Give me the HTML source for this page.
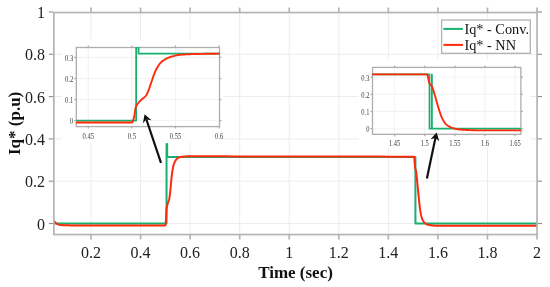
<!DOCTYPE html>
<html><head><meta charset="utf-8"><title>Iq* plot</title>
<style>html,body{margin:0;padding:0;background:#fff;width:550px;height:287px;overflow:hidden}svg{display:block}</style>
</head><body>
<svg width="550" height="287" viewBox="0 0 550 287"><rect x="0" y="0" width="550" height="287" fill="#fff"/>
<line x1="91" y1="12.55" x2="91" y2="234.55" stroke="#ececec" stroke-width="1"/>
<line x1="140.56" y1="12.55" x2="140.56" y2="234.55" stroke="#ececec" stroke-width="1"/>
<line x1="190.12" y1="12.55" x2="190.12" y2="234.55" stroke="#ececec" stroke-width="1"/>
<line x1="239.68" y1="12.55" x2="239.68" y2="234.55" stroke="#ececec" stroke-width="1"/>
<line x1="289.24" y1="12.55" x2="289.24" y2="234.55" stroke="#ececec" stroke-width="1"/>
<line x1="338.8" y1="12.55" x2="338.8" y2="234.55" stroke="#ececec" stroke-width="1"/>
<line x1="388.36" y1="12.55" x2="388.36" y2="234.55" stroke="#ececec" stroke-width="1"/>
<line x1="437.92" y1="12.55" x2="437.92" y2="234.55" stroke="#ececec" stroke-width="1"/>
<line x1="487.48" y1="12.55" x2="487.48" y2="234.55" stroke="#ececec" stroke-width="1"/>
<line x1="53.85" y1="223.5" x2="537.05" y2="223.5" stroke="#ececec" stroke-width="1"/>
<line x1="53.85" y1="181.2" x2="537.05" y2="181.2" stroke="#ececec" stroke-width="1"/>
<line x1="53.85" y1="138.9" x2="537.05" y2="138.9" stroke="#ececec" stroke-width="1"/>
<line x1="53.85" y1="96.6" x2="537.05" y2="96.6" stroke="#ececec" stroke-width="1"/>
<line x1="53.85" y1="54.3" x2="537.05" y2="54.3" stroke="#ececec" stroke-width="1"/>
<path d="M53.85 223.5 L166.55 223.5 L166.55 143.98 L167.15 143.98 L167.15 156.98 L415.42 156.98 L415.42 223.5 L537.05 223.5" fill="none" stroke="#17b06e" stroke-width="2" stroke-linejoin="round" />
<path d="M53.83 220.96 L55.68 223.02 L57.53 224.12 L59.37 224.72 L61.22 225.03 L63.07 225.2 L64.92 225.3 L66.77 225.35 L68.61 225.37 L70.46 225.39 L72.31 225.39 L74.16 225.4 L76.01 225.4 L77.85 225.4 L79.7 225.4 L81.55 225.4 L83.4 225.4 L85.25 225.4 L87.09 225.4 L88.94 225.4 L90.79 225.4 L92.64 225.4 L94.49 225.4 L96.33 225.4 L98.18 225.4 L100.03 225.4 L101.88 225.4 L103.73 225.4 L105.57 225.4 L107.42 225.4 L109.27 225.4 L111.12 225.4 L112.97 225.4 L114.81 225.4 L116.66 225.4 L118.51 225.4 L120.36 225.4 L122.21 225.4 L124.05 225.4 L125.9 225.4 L127.75 225.4 L129.6 225.4 L131.45 225.4 L133.29 225.4 L135.14 225.4 L136.99 225.4 L138.84 225.4 L140.69 225.4 L142.53 225.4 L144.38 225.4 L146.23 225.4 L148.08 225.4 L149.93 225.4 L151.77 225.4 L153.62 225.4 L155.47 225.4 L157.32 225.4 L159.17 225.4 L161.01 225.4 L162.86 225.4 L162.86 225.4 L163.12 225.4 L163.38 225.4 L163.65 225.4 L163.91 225.4 L164.17 225.4 L164.43 225.4 L164.69 225.4 L164.95 225.4 L165.22 225.4 L165.48 225.05 L165.74 222.87 L166 218.97 L166.26 213.09 L166.52 209.27 L166.78 207.57 L167.05 206.35 L167.31 205.19 L167.57 204.15 L167.83 203.2 L168.09 202.3 L168.35 201.52 L168.61 200.82 L168.88 200.09 L169.14 199.2 L169.4 198.01 L169.66 196.35 L169.92 194.33 L170.18 192.09 L170.45 189.32 L170.71 186.51 L170.97 183.84 L171.23 181.16 L171.49 178.5 L171.75 176 L172.01 173.82 L172.28 172 L172.54 170.3 L172.8 168.73 L173.06 167.31 L173.32 166.07 L173.58 165.05 L173.84 164.24 L174.11 163.52 L174.37 162.85 L174.63 162.24 L174.89 161.69 L175.15 161.2 L175.41 160.75 L175.68 160.35 L175.94 160 L176.2 159.69 L176.46 159.39 L176.72 159.11 L176.98 158.83 L177.24 158.58 L177.51 158.34 L177.77 158.11 L178.03 157.91 L178.29 157.74 L178.55 157.58 L178.81 157.45 L179.07 157.35 L179.34 157.28 L179.6 157.21 L179.86 157.15 L180.12 157.09 L180.38 157.04 L180.64 156.98 L180.91 156.94 L181.17 156.89 L181.43 156.85 L181.69 156.81 L181.95 156.77 L182.21 156.73 L182.47 156.7 L182.74 156.67 L183 156.64 L183.26 156.61 L183.52 156.58 L183.78 156.56 L184.04 156.54 L184.3 156.52 L184.57 156.5 L184.83 156.48 L185.09 156.46 L185.35 156.44 L185.61 156.43 L185.87 156.41 L186.14 156.39 L186.4 156.38 L186.66 156.36 L186.92 156.35 L187.18 156.33 L187.44 156.32 L187.7 156.31 L187.97 156.29 L188.23 156.28 L188.49 156.27 L188.75 156.26 L189.01 156.26 L189.27 156.25 L189.53 156.25 L189.8 156.24 L190.06 156.24 L190.32 156.24 L190.58 156.24 L190.84 156.24 L191.1 156.24 L191.37 156.24 L191.63 156.24 L191.89 156.24 L192.15 156.24 L192.41 156.24 L192.67 156.24 L192.93 156.24 L193.2 156.24 L193.46 156.24 L193.72 156.24 L193.98 156.24 L194.24 156.24 L194.5 156.24 L194.76 156.24 L195.03 156.24 L195.29 156.24 L195.55 156.24 L195.81 156.24 L196.07 156.24 L196.33 156.24 L196.6 156.24 L196.86 156.24 L197.12 156.24 L197.38 156.24 L197.64 156.24 L197.9 156.24 L198.16 156.24 L198.43 156.24 L198.69 156.24 L198.95 156.24 L199.21 156.24 L199.47 156.24 L199.73 156.24 L199.99 156.24 L200.26 156.24 L200.52 156.24 L200.78 156.24 L201.04 156.24 L201.3 156.24 L201.56 156.24 L201.83 156.24 L202.09 156.24 L202.35 156.24 L202.61 156.24 L202.87 156.24 L203.13 156.24 L203.39 156.24 L203.66 156.24 L203.92 156.24 L204.18 156.24 L204.44 156.24 L204.7 156.24 L204.96 156.24 L205.22 156.24 L205.49 156.24 L205.75 156.24 L206.01 156.24 L206.27 156.24 L206.53 156.24 L206.79 156.24 L207.06 156.24 L207.32 156.24 L207.58 156.24 L207.84 156.24 L208.1 156.24 L208.36 156.24 L208.62 156.24 L208.89 156.24 L209.15 156.24 L209.41 156.24 L209.67 156.24 L209.93 156.24 L210.19 156.24 L210.45 156.24 L210.72 156.24 L210.98 156.24 L211.24 156.24 L211.5 156.24 L211.76 156.24 L212.02 156.24 L212.29 156.24 L212.55 156.24 L212.81 156.24 L213.07 156.24 L213.33 156.24 L213.59 156.24 L213.85 156.24 L214.12 156.24 L214.38 156.24 L214.64 156.24 L214.9 156.24 L214.9 156.24 L225.2 156.37 L235.51 156.38 L245.81 156.4 L256.11 156.41 L266.42 156.43 L276.72 156.45 L287.02 156.46 L297.33 156.48 L307.63 156.5 L317.93 156.51 L328.24 156.53 L338.54 156.55 L348.84 156.56 L359.15 156.58 L369.45 156.6 L379.75 156.61 L390.06 156.63 L400.36 156.65 L410.66 156.66 L410.66 156.66 L410.95 156.66 L411.23 156.66 L411.52 156.66 L411.81 156.66 L412.09 156.66 L412.38 156.66 L412.67 156.67 L412.95 156.67 L413.24 156.67 L413.53 156.67 L413.81 156.67 L414.1 156.67 L414.39 158.69 L414.67 163.03 L414.96 166.7 L415.24 168.59 L415.53 169.64 L415.82 170.15 L416.1 171.37 L416.39 173.64 L416.68 176.14 L416.96 179.03 L417.25 181.95 L417.54 184.88 L417.82 187.83 L418.11 190.83 L418.39 193.88 L418.68 196.87 L418.97 199.72 L419.25 202.35 L419.54 204.89 L419.83 207.31 L420.11 209.5 L420.4 211.34 L420.69 212.96 L420.97 214.46 L421.26 215.82 L421.55 216.99 L421.83 217.95 L422.12 218.7 L422.4 219.38 L422.69 220 L422.98 220.56 L423.26 221.06 L423.55 221.5 L423.84 221.9 L424.12 222.24 L424.41 222.54 L424.7 222.82 L424.98 223.09 L425.27 223.34 L425.55 223.58 L425.84 223.8 L426.13 224 L426.41 224.18 L426.7 224.33 L426.99 224.46 L427.27 224.56 L427.56 224.63 L427.85 224.69 L428.13 224.75 L428.42 224.81 L428.71 224.87 L428.99 224.93 L429.28 224.98 L429.56 225.04 L429.85 225.09 L430.14 225.14 L430.42 225.18 L430.71 225.23 L431 225.27 L431.28 225.31 L431.57 225.35 L431.86 225.39 L432.14 225.43 L432.43 225.46 L432.71 225.49 L433 225.52 L433.29 225.55 L433.57 225.58 L433.86 225.6 L434.15 225.62 L434.43 225.64 L434.72 225.66 L435.01 225.67 L435.29 225.69 L435.58 225.7 L435.87 225.71 L436.15 225.71 L436.44 225.72 L436.72 225.72 L437.01 225.72 L437.3 225.72 L437.58 225.72 L437.87 225.72 L438.16 225.72 L438.44 225.72 L438.73 225.72 L439.02 225.72 L439.3 225.72 L439.59 225.72 L439.88 225.72 L440.16 225.72 L440.45 225.72 L440.73 225.72 L441.02 225.72 L441.31 225.72 L441.59 225.72 L441.88 225.72 L442.17 225.72 L442.45 225.72 L442.74 225.72 L443.03 225.72 L443.31 225.72 L443.6 225.72 L443.88 225.72 L444.17 225.72 L444.46 225.72 L444.74 225.72 L445.03 225.72 L445.32 225.72 L445.6 225.72 L445.89 225.72 L446.18 225.72 L446.46 225.72 L446.75 225.72 L447.04 225.72 L447.32 225.72 L447.61 225.72 L447.89 225.72 L448.18 225.72 L448.47 225.72 L448.75 225.72 L449.04 225.72 L449.33 225.72 L449.61 225.72 L449.9 225.72 L450.19 225.72 L450.47 225.72 L450.76 225.72 L451.04 225.72 L451.33 225.72 L451.62 225.72 L451.9 225.72 L452.19 225.72 L452.48 225.72 L452.76 225.72 L453.05 225.72 L453.34 225.72 L453.62 225.72 L453.91 225.72 L454.2 225.72 L454.48 225.72 L454.77 225.72 L455.05 225.72 L455.34 225.72 L455.63 225.72 L455.91 225.72 L456.2 225.72 L456.49 225.72 L456.77 225.72 L457.06 225.72 L457.35 225.72 L457.63 225.72 L457.92 225.72 L458.2 225.72 L458.49 225.72 L458.78 225.72 L459.06 225.72 L459.35 225.72 L459.64 225.72 L459.92 225.72 L460.21 225.72 L460.5 225.72 L460.78 225.72 L461.07 225.72 L461.36 225.72 L461.64 225.72 L461.93 225.72 L462.21 225.72 L462.5 225.72 L462.79 225.72 L463.07 225.72 L463.36 225.72 L463.65 225.72 L463.93 225.72 L464.22 225.72 L464.51 225.72 L464.79 225.72 L465.08 225.72 L465.36 225.72 L465.65 225.72 L465.94 225.72 L466.22 225.72 L466.51 225.72 L466.8 225.72 L467.08 225.72 L467.37 225.72 L467.66 225.72 L467.66 225.72 L475.37 225.72 L483.07 225.72 L490.78 225.72 L498.49 225.72 L506.2 225.72 L513.91 225.72 L521.62 225.72 L529.33 225.72 L537.04 225.72" fill="none" stroke="#ff2a0c" stroke-width="2" stroke-linejoin="round" />
<g stroke="#b4b4b4" stroke-width="1.7" fill="none">
<rect x="53.85" y="12.55" width="483.2" height="222"/>
<line x1="91" y1="234.55" x2="91" y2="239.55"/>
<line x1="91" y1="12.55" x2="91" y2="7.550000000000001"/>
<line x1="140.56" y1="234.55" x2="140.56" y2="239.55"/>
<line x1="140.56" y1="12.55" x2="140.56" y2="7.550000000000001"/>
<line x1="190.12" y1="234.55" x2="190.12" y2="239.55"/>
<line x1="190.12" y1="12.55" x2="190.12" y2="7.550000000000001"/>
<line x1="239.68" y1="234.55" x2="239.68" y2="239.55"/>
<line x1="239.68" y1="12.55" x2="239.68" y2="7.550000000000001"/>
<line x1="289.24" y1="234.55" x2="289.24" y2="239.55"/>
<line x1="289.24" y1="12.55" x2="289.24" y2="7.550000000000001"/>
<line x1="338.8" y1="234.55" x2="338.8" y2="239.55"/>
<line x1="338.8" y1="12.55" x2="338.8" y2="7.550000000000001"/>
<line x1="388.36" y1="234.55" x2="388.36" y2="239.55"/>
<line x1="388.36" y1="12.55" x2="388.36" y2="7.550000000000001"/>
<line x1="437.92" y1="234.55" x2="437.92" y2="239.55"/>
<line x1="437.92" y1="12.55" x2="437.92" y2="7.550000000000001"/>
<line x1="487.48" y1="234.55" x2="487.48" y2="239.55"/>
<line x1="487.48" y1="12.55" x2="487.48" y2="7.550000000000001"/>
<line x1="537.04" y1="234.55" x2="537.04" y2="239.55"/>
<line x1="537.04" y1="12.55" x2="537.04" y2="7.550000000000001"/>
</g>
<g stroke="#8e8e8e" stroke-width="1.1" fill="none">
<line x1="48.85" y1="223.5" x2="53.050000000000004" y2="223.5"/>
<line x1="537.8499999999999" y1="223.5" x2="542.05" y2="223.5"/>
<line x1="48.85" y1="181.2" x2="53.050000000000004" y2="181.2"/>
<line x1="537.8499999999999" y1="181.2" x2="542.05" y2="181.2"/>
<line x1="48.85" y1="138.9" x2="53.050000000000004" y2="138.9"/>
<line x1="537.8499999999999" y1="138.9" x2="542.05" y2="138.9"/>
<line x1="48.85" y1="96.6" x2="53.050000000000004" y2="96.6"/>
<line x1="537.8499999999999" y1="96.6" x2="542.05" y2="96.6"/>
<line x1="48.85" y1="54.3" x2="53.050000000000004" y2="54.3"/>
<line x1="537.8499999999999" y1="54.3" x2="542.05" y2="54.3"/>
<line x1="48.85" y1="12" x2="53.050000000000004" y2="12"/>
<line x1="537.8499999999999" y1="12" x2="542.05" y2="12"/>
</g>
<g font-family="Liberation Serif, serif" font-size="16" fill="#222">
<text x="91" y="258" text-anchor="middle">0.2</text>
<text x="140.56" y="258" text-anchor="middle">0.4</text>
<text x="190.12" y="258" text-anchor="middle">0.6</text>
<text x="239.68" y="258" text-anchor="middle">0.8</text>
<text x="289.24" y="258" text-anchor="middle">1</text>
<text x="338.8" y="258" text-anchor="middle">1.2</text>
<text x="388.36" y="258" text-anchor="middle">1.4</text>
<text x="437.92" y="258" text-anchor="middle">1.6</text>
<text x="487.48" y="258" text-anchor="middle">1.8</text>
<text x="537.04" y="258" text-anchor="middle">2</text>
<text x="45" y="229.5" text-anchor="end">0</text>
<text x="45" y="187.2" text-anchor="end">0.2</text>
<text x="45" y="144.9" text-anchor="end">0.4</text>
<text x="45" y="102.6" text-anchor="end">0.6</text>
<text x="45" y="60.3" text-anchor="end">0.8</text>
<text x="45" y="18" text-anchor="end">1</text>
</g>
<text x="295.5" y="278" text-anchor="middle" font-family="Liberation Serif, serif" font-weight="bold" font-size="17" fill="#111">Time (sec)</text>
<text transform="translate(19.6 123.4) rotate(-90)" x="0" y="0" text-anchor="middle" font-family="Liberation Serif, serif" font-weight="bold" font-size="17" fill="#111">Iq* (p.u)</text>
<rect x="62" y="39.5" width="162.5" height="103" fill="#fff"/>
<line x1="88.3" y1="47.5" x2="88.3" y2="126.6" stroke="#efefef" stroke-width="0.8"/>
<line x1="131.9" y1="47.5" x2="131.9" y2="126.6" stroke="#efefef" stroke-width="0.8"/>
<line x1="175.5" y1="47.5" x2="175.5" y2="126.6" stroke="#efefef" stroke-width="0.8"/>
<line x1="76.3" y1="120.6" x2="219.5" y2="120.6" stroke="#efefef" stroke-width="0.8"/>
<line x1="76.3" y1="99.55" x2="219.5" y2="99.55" stroke="#efefef" stroke-width="0.8"/>
<line x1="76.3" y1="78.5" x2="219.5" y2="78.5" stroke="#efefef" stroke-width="0.8"/>
<line x1="76.3" y1="57.45" x2="219.5" y2="57.45" stroke="#efefef" stroke-width="0.8"/>
<g stroke="#adadad" stroke-width="1.3" fill="none">
<rect x="76.3" y="47.5" width="143.2" height="79.1"/>
<line x1="88.3" y1="126.6" x2="88.3" y2="128.6"/>
<line x1="88.3" y1="47.5" x2="88.3" y2="45.5"/>
<line x1="131.9" y1="126.6" x2="131.9" y2="128.6"/>
<line x1="131.9" y1="47.5" x2="131.9" y2="45.5"/>
<line x1="175.5" y1="126.6" x2="175.5" y2="128.6"/>
<line x1="175.5" y1="47.5" x2="175.5" y2="45.5"/>
<line x1="219.1" y1="126.6" x2="219.1" y2="128.6"/>
<line x1="219.1" y1="47.5" x2="219.1" y2="45.5"/>
<line x1="74.3" y1="120.6" x2="76.3" y2="120.6"/>
<line x1="219.5" y1="120.6" x2="221.5" y2="120.6"/>
<line x1="74.3" y1="99.55" x2="76.3" y2="99.55"/>
<line x1="219.5" y1="99.55" x2="221.5" y2="99.55"/>
<line x1="74.3" y1="78.5" x2="76.3" y2="78.5"/>
<line x1="219.5" y1="78.5" x2="221.5" y2="78.5"/>
<line x1="74.3" y1="57.45" x2="76.3" y2="57.45"/>
<line x1="219.5" y1="57.45" x2="221.5" y2="57.45"/>
</g>
<clipPath id="c76"><rect x="75.9" y="47.1" width="144" height="79.9"/></clipPath>
<g clip-path="url(#c76)">
<path d="M76.3 120.6 L136.17 120.6 L136.17 36.4 L138.53 36.4 L138.53 53.66 L219.5 53.66" fill="none" stroke="#17b06e" stroke-width="1.8" stroke-linejoin="round" />
<path d="M70.86 122.49 L71.25 122.49 L71.65 122.49 L72.04 122.49 L72.43 122.49 L72.83 122.49 L73.22 122.49 L73.61 122.49 L74.01 122.49 L74.4 122.49 L74.79 122.49 L75.19 122.49 L75.58 122.49 L75.97 122.49 L76.37 122.49 L76.76 122.49 L77.15 122.49 L77.55 122.49 L77.94 122.49 L78.33 122.49 L78.73 122.49 L79.12 122.49 L79.51 122.49 L79.91 122.49 L80.3 122.49 L80.69 122.49 L81.09 122.49 L81.48 122.49 L81.87 122.49 L82.27 122.49 L82.66 122.49 L83.05 122.49 L83.45 122.49 L83.84 122.49 L84.24 122.49 L84.63 122.49 L85.02 122.49 L85.42 122.49 L85.81 122.49 L86.2 122.49 L86.6 122.49 L86.99 122.49 L87.38 122.49 L87.78 122.49 L88.17 122.49 L88.56 122.49 L88.96 122.49 L89.35 122.49 L89.74 122.49 L90.14 122.49 L90.53 122.49 L90.92 122.49 L91.32 122.49 L91.71 122.49 L92.1 122.49 L92.5 122.49 L92.89 122.49 L93.28 122.49 L93.68 122.49 L94.07 122.49 L94.46 122.49 L94.86 122.49 L95.25 122.49 L95.64 122.49 L96.04 122.49 L96.43 122.49 L96.82 122.49 L97.22 122.49 L97.61 122.49 L98 122.49 L98.4 122.49 L98.79 122.49 L99.18 122.49 L99.58 122.49 L99.97 122.49 L100.36 122.49 L100.76 122.49 L101.15 122.49 L101.54 122.49 L101.94 122.49 L102.33 122.49 L102.72 122.49 L103.12 122.49 L103.51 122.49 L103.9 122.49 L104.3 122.49 L104.69 122.49 L105.08 122.49 L105.48 122.49 L105.87 122.49 L106.26 122.49 L106.66 122.49 L107.05 122.49 L107.44 122.49 L107.84 122.49 L108.23 122.49 L108.62 122.49 L109.02 122.49 L109.41 122.49 L109.8 122.49 L110.2 122.49 L110.59 122.49 L110.99 122.49 L111.38 122.49 L111.77 122.49 L112.17 122.49 L112.56 122.49 L112.95 122.49 L113.35 122.49 L113.74 122.49 L114.13 122.49 L114.53 122.49 L114.92 122.49 L115.31 122.49 L115.71 122.49 L116.1 122.49 L116.49 122.49 L116.89 122.49 L117.28 122.49 L117.67 122.49 L118.07 122.49 L118.46 122.49 L118.85 122.49 L119.25 122.49 L119.64 122.49 L120.03 122.49 L120.43 122.49 L120.82 122.49 L121.21 122.49 L121.61 122.49 L122 122.49 L122.39 122.49 L122.79 122.49 L123.18 122.49 L123.57 122.49 L123.97 122.49 L124.36 122.49 L124.75 122.49 L125.15 122.49 L125.54 122.49 L125.93 122.49 L126.33 122.49 L126.72 122.49 L127.11 122.49 L127.51 122.49 L127.9 122.49 L128.29 122.49 L128.69 122.49 L129.08 122.49 L129.47 122.49 L129.87 122.49 L130.26 122.49 L130.65 122.49 L131.05 122.49 L131.44 122.49 L131.83 122.49 L132.23 122.31 L132.62 121.83 L133.01 120.92 L133.41 119.58 L133.8 117.97 L134.19 116.22 L134.59 114.15 L134.98 111.38 L135.37 108.76 L135.77 107.16 L136.16 106.21 L136.56 105.44 L136.95 104.79 L137.34 104.24 L137.74 103.74 L138.13 103.26 L138.52 102.76 L138.92 102.27 L139.31 101.81 L139.7 101.38 L140.1 100.97 L140.49 100.57 L140.88 100.18 L141.28 99.8 L141.67 99.42 L142.06 99.08 L142.46 98.76 L142.85 98.46 L143.24 98.16 L143.64 97.87 L144.03 97.56 L144.42 97.23 L144.82 96.87 L145.21 96.48 L145.6 96.03 L146 95.52 L146.39 94.91 L146.78 94.21 L147.18 93.44 L147.57 92.6 L147.96 91.72 L148.36 90.79 L148.75 89.83 L149.14 88.81 L149.54 87.63 L149.93 86.38 L150.32 85.16 L150.72 83.99 L151.11 82.83 L151.5 81.7 L151.9 80.58 L152.29 79.44 L152.68 78.3 L153.08 77.15 L153.47 76.03 L153.86 74.93 L154.26 73.87 L154.65 72.86 L155.04 71.92 L155.44 71.05 L155.83 70.26 L156.22 69.5 L156.62 68.76 L157.01 68.04 L157.4 67.34 L157.8 66.66 L158.19 66.01 L158.58 65.39 L158.98 64.8 L159.37 64.24 L159.76 63.72 L160.16 63.24 L160.55 62.79 L160.94 62.39 L161.34 62.04 L161.73 61.7 L162.12 61.38 L162.52 61.08 L162.91 60.78 L163.31 60.49 L163.7 60.22 L164.09 59.95 L164.49 59.7 L164.88 59.46 L165.27 59.22 L165.67 59 L166.06 58.78 L166.45 58.58 L166.85 58.38 L167.24 58.2 L167.63 58.02 L168.03 57.85 L168.42 57.69 L168.81 57.54 L169.21 57.39 L169.6 57.26 L169.99 57.13 L170.39 57 L170.78 56.87 L171.17 56.75 L171.57 56.63 L171.96 56.51 L172.35 56.39 L172.75 56.28 L173.14 56.16 L173.53 56.05 L173.93 55.95 L174.32 55.84 L174.71 55.74 L175.11 55.65 L175.5 55.55 L175.89 55.47 L176.29 55.38 L176.68 55.3 L177.07 55.22 L177.47 55.15 L177.86 55.08 L178.25 55.01 L178.65 54.95 L179.04 54.9 L179.43 54.85 L179.83 54.8 L180.22 54.76 L180.61 54.73 L181.01 54.7 L181.4 54.67 L181.79 54.64 L182.19 54.62 L182.58 54.59 L182.97 54.56 L183.37 54.54 L183.76 54.51 L184.15 54.49 L184.55 54.47 L184.94 54.44 L185.33 54.42 L185.73 54.4 L186.12 54.38 L186.51 54.36 L186.91 54.34 L187.3 54.32 L187.69 54.3 L188.09 54.28 L188.48 54.26 L188.88 54.24 L189.27 54.23 L189.66 54.21 L190.06 54.19 L190.45 54.18 L190.84 54.16 L191.24 54.15 L191.63 54.13 L192.02 54.12 L192.42 54.11 L192.81 54.09 L193.2 54.08 L193.6 54.07 L193.99 54.05 L194.38 54.04 L194.78 54.03 L195.17 54.02 L195.56 54.01 L195.96 54 L196.35 53.99 L196.74 53.98 L197.14 53.97 L197.53 53.96 L197.92 53.95 L198.32 53.94 L198.71 53.93 L199.1 53.92 L199.5 53.91 L199.89 53.91 L200.28 53.9 L200.68 53.89 L201.07 53.88 L201.46 53.88 L201.86 53.87 L202.25 53.86 L202.64 53.85 L203.04 53.85 L203.43 53.84 L203.82 53.83 L204.22 53.83 L204.61 53.82 L205 53.81 L205.4 53.8 L205.79 53.8 L206.18 53.79 L206.58 53.78 L206.97 53.78 L207.36 53.77 L207.76 53.77 L208.15 53.76 L208.54 53.75 L208.94 53.75 L209.33 53.74 L209.72 53.74 L210.12 53.73 L210.51 53.72 L210.9 53.72 L211.3 53.71 L211.69 53.71 L212.08 53.7 L212.48 53.7 L212.87 53.7 L213.26 53.69 L213.66 53.69 L214.05 53.68 L214.44 53.68 L214.84 53.68 L215.23 53.68 L215.63 53.67 L216.02 53.67 L216.41 53.67 L216.81 53.67 L217.2 53.66 L217.59 53.66 L217.99 53.66 L218.38 53.66 L218.77 53.66 L219.17 53.66 L219.56 53.66 L219.95 53.66 L220.35 53.66 L220.74 53.66 L221.13 53.66 L221.53 53.66 L221.92 53.66 L222.31 53.66 L222.71 53.66 L223.1 53.66 L223.49 53.66 L223.89 53.66 L224.28 53.66 L224.67 53.66 L225.07 53.66 L225.46 53.66 L225.85 53.66 L226.25 53.66 L226.64 53.66 L227.03 53.66 L227.43 53.66 L227.82 53.66" fill="none" stroke="#ff2a0c" stroke-width="1.9" stroke-linejoin="round" />
</g>
<g font-family="Liberation Serif, serif" font-size="8.5" fill="#3a3a3a">
<text transform="translate(88.3 138.6) scale(0.78 1)" text-anchor="middle">0.45</text>
<text transform="translate(131.9 138.6) scale(0.78 1)" text-anchor="middle">0.5</text>
<text transform="translate(175.5 138.6) scale(0.78 1)" text-anchor="middle">0.55</text>
<text transform="translate(219.1 138.6) scale(0.78 1)" text-anchor="middle">0.6</text>
<text transform="translate(73.2 123.7) scale(0.78 1)" text-anchor="end">0</text>
<text transform="translate(73.2 102.66) scale(0.78 1)" text-anchor="end">0.1</text>
<text transform="translate(73.2 81.61) scale(0.78 1)" text-anchor="end">0.2</text>
<text transform="translate(73.2 60.55) scale(0.78 1)" text-anchor="end">0.3</text>
</g>
<rect x="358.7" y="59.5" width="171.3" height="88.5" fill="#fff"/>
<line x1="394.65" y1="67.4" x2="394.65" y2="134.3" stroke="#efefef" stroke-width="0.8"/>
<line x1="424.75" y1="67.4" x2="424.75" y2="134.3" stroke="#efefef" stroke-width="0.8"/>
<line x1="454.85" y1="67.4" x2="454.85" y2="134.3" stroke="#efefef" stroke-width="0.8"/>
<line x1="484.95" y1="67.4" x2="484.95" y2="134.3" stroke="#efefef" stroke-width="0.8"/>
<line x1="515.05" y1="67.4" x2="515.05" y2="134.3" stroke="#efefef" stroke-width="0.8"/>
<line x1="372.5" y1="128.6" x2="520.9" y2="128.6" stroke="#efefef" stroke-width="0.8"/>
<line x1="372.5" y1="111.45" x2="520.9" y2="111.45" stroke="#efefef" stroke-width="0.8"/>
<line x1="372.5" y1="94.3" x2="520.9" y2="94.3" stroke="#efefef" stroke-width="0.8"/>
<line x1="372.5" y1="77.15" x2="520.9" y2="77.15" stroke="#efefef" stroke-width="0.8"/>
<g stroke="#adadad" stroke-width="1.3" fill="none">
<rect x="372.5" y="67.4" width="148.4" height="66.9"/>
<line x1="394.65" y1="134.3" x2="394.65" y2="136.3"/>
<line x1="394.65" y1="67.4" x2="394.65" y2="65.4"/>
<line x1="424.75" y1="134.3" x2="424.75" y2="136.3"/>
<line x1="424.75" y1="67.4" x2="424.75" y2="65.4"/>
<line x1="454.85" y1="134.3" x2="454.85" y2="136.3"/>
<line x1="454.85" y1="67.4" x2="454.85" y2="65.4"/>
<line x1="484.95" y1="134.3" x2="484.95" y2="136.3"/>
<line x1="484.95" y1="67.4" x2="484.95" y2="65.4"/>
<line x1="515.05" y1="134.3" x2="515.05" y2="136.3"/>
<line x1="515.05" y1="67.4" x2="515.05" y2="65.4"/>
<line x1="370.5" y1="128.6" x2="372.5" y2="128.6"/>
<line x1="520.9" y1="128.6" x2="522.9" y2="128.6"/>
<line x1="370.5" y1="111.45" x2="372.5" y2="111.45"/>
<line x1="520.9" y1="111.45" x2="522.9" y2="111.45"/>
<line x1="370.5" y1="94.3" x2="372.5" y2="94.3"/>
<line x1="520.9" y1="94.3" x2="522.9" y2="94.3"/>
<line x1="370.5" y1="77.15" x2="372.5" y2="77.15"/>
<line x1="520.9" y1="77.15" x2="522.9" y2="77.15"/>
</g>
<clipPath id="c372"><rect x="372.1" y="67" width="149.2" height="67.7"/></clipPath>
<g clip-path="url(#c372)">
<path d="M372.5 74.41 L429.5 74.41 L429.5 128.6 L431.9 128.6 L431.9 74.41 L431.9 128.6 L520.9 128.6" fill="none" stroke="#17b06e" stroke-width="1.8" stroke-linejoin="round" />
<path d="M370.57 74.38 L370.96 74.38 L371.35 74.38 L371.75 74.38 L372.14 74.38 L372.53 74.38 L372.92 74.38 L373.32 74.38 L373.71 74.38 L374.1 74.38 L374.49 74.38 L374.89 74.38 L375.28 74.38 L375.67 74.38 L376.06 74.38 L376.45 74.38 L376.85 74.38 L377.24 74.38 L377.63 74.38 L378.02 74.38 L378.42 74.38 L378.81 74.38 L379.2 74.38 L379.59 74.38 L379.98 74.38 L380.38 74.38 L380.77 74.38 L381.16 74.38 L381.55 74.38 L381.95 74.38 L382.34 74.38 L382.73 74.38 L383.12 74.38 L383.52 74.38 L383.91 74.38 L384.3 74.38 L384.69 74.38 L385.08 74.38 L385.48 74.39 L385.87 74.39 L386.26 74.39 L386.65 74.39 L387.05 74.39 L387.44 74.39 L387.83 74.39 L388.22 74.39 L388.61 74.39 L389.01 74.39 L389.4 74.39 L389.79 74.39 L390.18 74.39 L390.58 74.39 L390.97 74.39 L391.36 74.39 L391.75 74.39 L392.15 74.39 L392.54 74.39 L392.93 74.39 L393.32 74.39 L393.71 74.39 L394.11 74.39 L394.5 74.39 L394.89 74.39 L395.28 74.39 L395.68 74.39 L396.07 74.39 L396.46 74.39 L396.85 74.39 L397.25 74.39 L397.64 74.39 L398.03 74.39 L398.42 74.39 L398.81 74.39 L399.21 74.39 L399.6 74.39 L399.99 74.39 L400.38 74.39 L400.78 74.39 L401.17 74.39 L401.56 74.39 L401.95 74.39 L402.34 74.39 L402.74 74.39 L403.13 74.39 L403.52 74.39 L403.91 74.39 L404.31 74.4 L404.7 74.4 L405.09 74.4 L405.48 74.4 L405.88 74.4 L406.27 74.4 L406.66 74.4 L407.05 74.4 L407.44 74.4 L407.84 74.4 L408.23 74.4 L408.62 74.4 L409.01 74.4 L409.41 74.4 L409.8 74.4 L410.19 74.4 L410.58 74.4 L410.97 74.4 L411.37 74.4 L411.76 74.4 L412.15 74.4 L412.54 74.4 L412.94 74.4 L413.33 74.4 L413.72 74.4 L414.11 74.4 L414.51 74.4 L414.9 74.4 L415.29 74.4 L415.68 74.4 L416.07 74.4 L416.47 74.4 L416.86 74.4 L417.25 74.4 L417.64 74.4 L418.04 74.4 L418.43 74.4 L418.82 74.4 L419.21 74.4 L419.61 74.4 L420 74.4 L420.39 74.4 L420.78 74.4 L421.17 74.4 L421.57 74.4 L421.96 74.4 L422.35 74.4 L422.74 74.4 L423.14 74.41 L423.53 74.41 L423.92 74.41 L424.31 74.41 L424.7 74.41 L425.1 74.41 L425.49 74.41 L425.88 74.41 L426.27 74.41 L426.67 74.41 L427.06 74.41 L427.45 74.9 L427.84 76.35 L428.24 78.32 L428.63 80.37 L429.02 82.08 L429.41 83.14 L429.8 83.97 L430.2 84.59 L430.59 84.95 L430.98 85.17 L431.37 85.44 L431.77 85.96 L432.16 86.83 L432.55 87.9 L432.94 88.99 L433.33 90.17 L433.73 91.47 L434.12 92.82 L434.51 94.16 L434.9 95.49 L435.3 96.83 L435.69 98.18 L436.08 99.53 L436.47 100.89 L436.87 102.27 L437.26 103.66 L437.65 105.05 L438.04 106.42 L438.43 107.76 L438.83 109.06 L439.22 110.29 L439.61 111.47 L440 112.64 L440.4 113.79 L440.79 114.91 L441.18 115.97 L441.57 116.97 L441.97 117.88 L442.36 118.68 L442.75 119.43 L443.14 120.16 L443.53 120.86 L443.93 121.52 L444.32 122.14 L444.71 122.71 L445.1 123.24 L445.5 123.71 L445.89 124.12 L446.28 124.47 L446.67 124.8 L447.06 125.11 L447.46 125.41 L447.85 125.69 L448.24 125.96 L448.63 126.21 L449.03 126.44 L449.42 126.66 L449.81 126.87 L450.2 127.06 L450.6 127.24 L450.99 127.41 L451.38 127.56 L451.77 127.7 L452.16 127.83 L452.56 127.96 L452.95 128.09 L453.34 128.21 L453.73 128.33 L454.13 128.45 L454.52 128.56 L454.91 128.67 L455.3 128.77 L455.69 128.87 L456.09 128.96 L456.48 129.04 L456.87 129.12 L457.26 129.2 L457.66 129.27 L458.05 129.33 L458.44 129.38 L458.83 129.43 L459.23 129.47 L459.62 129.5 L460.01 129.53 L460.4 129.56 L460.79 129.59 L461.19 129.62 L461.58 129.64 L461.97 129.67 L462.36 129.7 L462.76 129.73 L463.15 129.75 L463.54 129.78 L463.93 129.8 L464.33 129.83 L464.72 129.85 L465.11 129.87 L465.5 129.9 L465.89 129.92 L466.29 129.94 L466.68 129.96 L467.07 129.98 L467.46 130 L467.86 130.02 L468.25 130.04 L468.64 130.06 L469.03 130.08 L469.42 130.1 L469.82 130.12 L470.21 130.13 L470.6 130.15 L470.99 130.17 L471.39 130.18 L471.78 130.2 L472.17 130.21 L472.56 130.23 L472.96 130.24 L473.35 130.25 L473.74 130.26 L474.13 130.28 L474.52 130.29 L474.92 130.3 L475.31 130.31 L475.7 130.32 L476.09 130.33 L476.49 130.34 L476.88 130.34 L477.27 130.35 L477.66 130.36 L478.05 130.37 L478.45 130.37 L478.84 130.38 L479.23 130.38 L479.62 130.39 L480.02 130.39 L480.41 130.39 L480.8 130.4 L481.19 130.4 L481.59 130.4 L481.98 130.4 L482.37 130.4 L482.76 130.4 L483.15 130.4 L483.55 130.4 L483.94 130.4 L484.33 130.4 L484.72 130.4 L485.12 130.4 L485.51 130.4 L485.9 130.4 L486.29 130.4 L486.69 130.4 L487.08 130.4 L487.47 130.4 L487.86 130.4 L488.25 130.4 L488.65 130.4 L489.04 130.4 L489.43 130.4 L489.82 130.4 L490.22 130.4 L490.61 130.4 L491 130.4 L491.39 130.4 L491.78 130.4 L492.18 130.4 L492.57 130.4 L492.96 130.4 L493.35 130.4 L493.75 130.4 L494.14 130.4 L494.53 130.4 L494.92 130.4 L495.32 130.4 L495.71 130.4 L496.1 130.4 L496.49 130.4 L496.88 130.4 L497.28 130.4 L497.67 130.4 L498.06 130.4 L498.45 130.4 L498.85 130.4 L499.24 130.4 L499.63 130.4 L500.02 130.4 L500.41 130.4 L500.81 130.4 L501.2 130.4 L501.59 130.4 L501.98 130.4 L502.38 130.4 L502.77 130.4 L503.16 130.4 L503.55 130.4 L503.95 130.4 L504.34 130.4 L504.73 130.4 L505.12 130.4 L505.51 130.4 L505.91 130.4 L506.3 130.4 L506.69 130.4 L507.08 130.4 L507.48 130.4 L507.87 130.4 L508.26 130.4 L508.65 130.4 L509.05 130.4 L509.44 130.4 L509.83 130.4 L510.22 130.4 L510.61 130.4 L511.01 130.4 L511.4 130.4 L511.79 130.4 L512.18 130.4 L512.58 130.4 L512.97 130.4 L513.36 130.4 L513.75 130.4 L514.14 130.4 L514.54 130.4 L514.93 130.4 L515.32 130.4 L515.71 130.4 L516.11 130.4 L516.5 130.4 L516.89 130.4 L517.28 130.4 L517.68 130.4 L518.07 130.4 L518.46 130.4 L518.85 130.4 L519.24 130.4 L519.64 130.4 L520.03 130.4 L520.42 130.4 L520.81 130.4 L521.21 130.4 L521.6 130.4 L521.99 130.4 L522.38 130.4 L522.77 130.4 L523.17 130.4 L523.56 130.4 L523.95 130.4 L524.34 130.4 L524.74 130.4 L525.13 130.4 L525.52 130.4 L525.91 130.4 L526.31 130.4 L526.7 130.4 L527.09 130.4" fill="none" stroke="#ff2a0c" stroke-width="1.9" stroke-linejoin="round" />
</g>
<g font-family="Liberation Serif, serif" font-size="7.2" fill="#3a3a3a">
<text transform="translate(394.65 145.6) scale(0.9 1)" text-anchor="middle">1.45</text>
<text transform="translate(424.75 145.6) scale(0.9 1)" text-anchor="middle">1.5</text>
<text transform="translate(454.85 145.6) scale(0.9 1)" text-anchor="middle">1.55</text>
<text transform="translate(484.95 145.6) scale(0.9 1)" text-anchor="middle">1.6</text>
<text transform="translate(515.05 145.6) scale(0.9 1)" text-anchor="middle">1.65</text>
<text transform="translate(369.4 132.38) scale(0.9 1)" text-anchor="end">0</text>
<text transform="translate(369.4 115.23) scale(0.9 1)" text-anchor="end">0.1</text>
<text transform="translate(369.4 98.08) scale(0.9 1)" text-anchor="end">0.2</text>
<text transform="translate(369.4 80.93) scale(0.9 1)" text-anchor="end">0.3</text>
</g>
<line x1="161" y1="162.8" x2="146.39" y2="119.51" stroke="#111" stroke-width="2.2"/>
<path d="M144.6 114.2 L151.42 120.34 L146.39 119.51 L142.89 123.22 Z" fill="#111"/>
<line x1="426.9" y1="178.4" x2="435.44" y2="137.88" stroke="#111" stroke-width="2.2"/>
<path d="M436.6 132.4 L439.35 141.16 L435.44 137.88 L430.55 139.3 Z" fill="#111"/>
<rect x="441.6" y="20.05" width="88.7" height="33.25" fill="#fff" stroke="#b2b2b2" stroke-width="1.3"/>
<line x1="443.4" y1="28.9" x2="462.9" y2="28.9" stroke="#17b06e" stroke-width="2"/>
<line x1="443.4" y1="44.9" x2="462.9" y2="44.9" stroke="#ff2a0c" stroke-width="2"/>
<g font-family="Liberation Serif, serif" font-size="14.3" fill="#111">
<text x="464.4" y="34">Iq* - Conv.</text>
<text x="464.4" y="50">Iq* - NN</text>
</g></svg>
</body></html>
